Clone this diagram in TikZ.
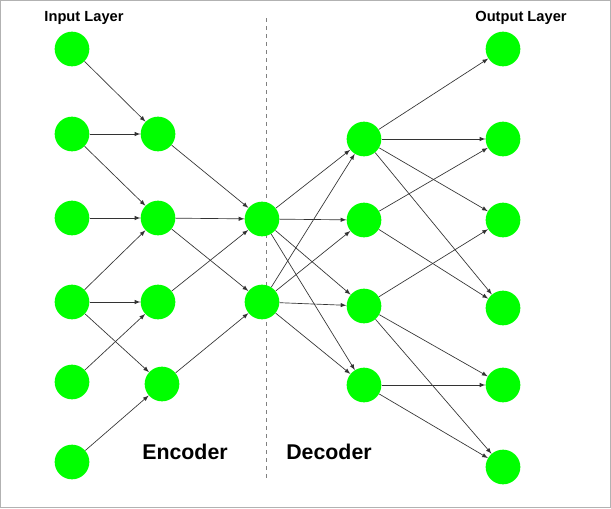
\documentclass[tikz,border=0pt]{standalone}
\usepackage{fontspec}
\setmainfont{Liberation Sans}
\usetikzlibrary{arrows}

\begin{document}
\begin{tikzpicture}[x=0.75pt, y=-0.75pt]
    % Define block styles
    \tikzstyle{neuron} = [circle, fill=green, minimum size=26pt, inner sep=0pt]
    \tikzstyle{line} = [draw, -latex, black!80, line width=0.5pt]
    \tikzstyle{title} = [font=\bfseries\fontsize{11}{13}\selectfont]
    \tikzstyle{part} = [font=\bfseries\fontsize{16}{19}\selectfont]

    \draw [gray!60, fill=white] (0.5,0.5) rectangle (610.5,507.5);
    \useasboundingbox (0,0) rectangle (611,508);

    % Labels
    \node [title] (inLabel) at (84,18) {Input Layer};
    \node [title] (outLabel) at (521,18) {Output Layer};
    \node [part] (enc) at (185,452) {Encoder};
    \node [part] (dec) at (329,452) {Decoder};
    \coordinate (sepTop) at (266,18);
    \coordinate (sepBot) at (266,478);
    \draw [dashed, gray] (sepTop) -- (sepBot);

    % Input layer
    \node [neuron] (in1) at (72,49) {};
    \node [neuron] (in2) at (72,134) {};
    \node [neuron] (in3) at (72,218) {};
    \node [neuron] (in4) at (72,302) {};
    \node [neuron] (in5) at (72,382) {};
    \node [neuron] (in6) at (72,462) {};

    % Encoder layer
    \node [neuron] (enc1) at (158,134) {};
    \node [neuron] (enc2) at (158,218) {};
    \node [neuron] (enc3) at (158,302) {};
    \node [neuron] (enc4) at (162,384) {};

    % Code layer
    \node [neuron] (code1) at (262,219) {};
    \node [neuron] (code2) at (262,302) {};

    % Decoder layer
    \node [neuron] (dec1) at (364,139) {};
    \node [neuron] (dec2) at (364,220) {};
    \node [neuron] (dec3) at (364,306) {};
    \node [neuron] (dec4) at (364,385) {};

    % Output layer
    \node [neuron] (out1) at (503,49) {};
    \node [neuron] (out2) at (503,139) {};
    \node [neuron] (out3) at (503,220) {};
    \node [neuron] (out4) at (503,308) {};
    \node [neuron] (out5) at (503,385) {};
    \node [neuron] (out6) at (503,467) {};

    % Encoder paths
    \path [line] (in1) -- (enc1);
    \path [line] (in2) -- (enc1);
    \path [line] (in2) -- (enc2);
    \path [line] (in3) -- (enc2);
    \path [line] (in4) -- (enc2);
    \path [line] (in4) -- (enc3);
    \path [line] (in4) -- (enc4);
    \path [line] (in5) -- (enc3);
    \path [line] (in6) -- (enc4);
    \path [line] (enc1) -- (code1);
    \path [line] (enc2) -- (code1);
    \path [line] (enc2) -- (code2);
    \path [line] (enc3) -- (code1);
    \path [line] (enc4) -- (code2);

    % Decoder paths
    \path [line] (code1) -- (dec1);
    \path [line] (code1) -- (dec2);
    \path [line] (code1) -- (dec3);
    \path [line] (code1) -- (dec4);
    \path [line] (code2) -- (dec1);
    \path [line] (code2) -- (dec2);
    \path [line] (code2) -- (dec3);
    \path [line] (code2) -- (dec4);
    \path [line] (dec1) -- (out1);
    \path [line] (dec1) -- (out2);
    \path [line] (dec1) -- (out3);
    \path [line] (dec1) -- (out4);
    \path [line] (dec2) -- (out2);
    \path [line] (dec2) -- (out4);
    \path [line] (dec3) -- (out3);
    \path [line] (dec3) -- (out5);
    \path [line] (dec3) -- (out6);
    \path [line] (dec4) -- (out5);
    \path [line] (dec4) -- (out6);

\end{tikzpicture}
\end{document}
